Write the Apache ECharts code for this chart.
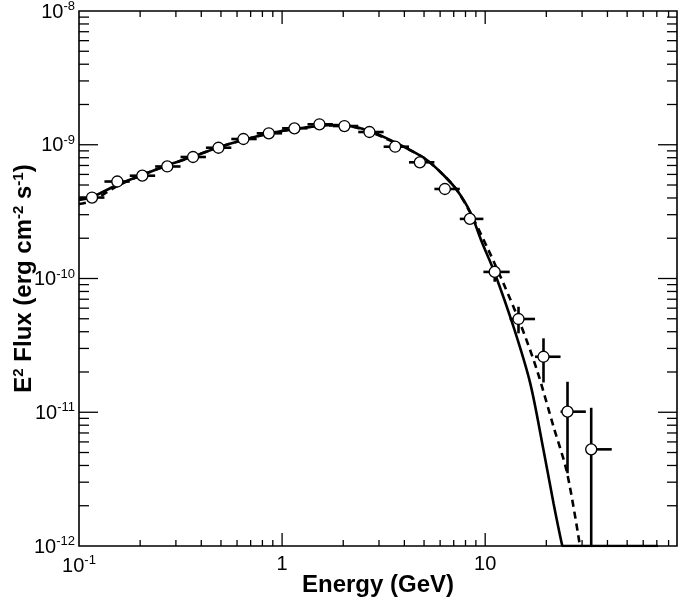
<!DOCTYPE html>
<html>
<head>
<meta charset="utf-8">
<script src="https://cdn.jsdelivr.net/npm/echarts@6/dist/echarts.min.js"></script>
<style>
html,body{margin:0;padding:0;background:#fff}
#chart{width:680px;height:602px}
</style>
</head>
<body>
<div id="chart"></div>
<script>
// data points (GeV, erg cm-2 s-1)
var energy = [0.1159,0.1544,0.205,0.272,0.3644,0.486,0.645,0.860,1.150,1.527,2.027,2.692,3.604,4.767,6.33,8.41,11.14,14.59,19.37,25.43,33.27];
var flux = [4.03e-10,5.31e-10,5.87e-10,6.88e-10,8.10e-10,9.50e-10,1.104e-9,1.218e-9,1.327e-9,1.422e-9,1.380e-9,1.245e-9,9.67e-10,7.39e-10,4.67e-10,2.79e-10,1.12e-10,4.98e-11,2.60e-11,1.01e-11,5.28e-12];
var binLo = [0.1,0.1334,0.1778,0.2371,0.3162,0.4217,0.5623,0.7499,1.0,1.334,1.778,2.371,3.162,4.217,5.623,7.499,9.8,13.2,17.6,23.5,31.3];
var binHi = [0.1334,0.1778,0.2371,0.3162,0.4217,0.5623,0.7499,1.0,1.334,1.778,2.371,3.162,4.217,5.623,7.499,9.8,13.2,17.6,23.5,31.3,42.0];
var fluxLo = [3.90e-10,5.15e-10,5.72e-10,6.72e-10,7.93e-10,9.32e-10,1.084e-9,1.196e-9,1.303e-9,1.395e-9,1.350e-9,1.212e-9,9.35e-10,7.08e-10,4.43e-10,2.56e-10,9.46e-11,3.89e-11,1.67e-11,3.50e-12,1e-12];
var fluxHi = [4.16e-10,5.47e-10,6.02e-10,7.04e-10,8.27e-10,9.68e-10,1.124e-9,1.240e-9,1.351e-9,1.449e-9,1.410e-9,1.278e-9,9.99e-10,7.70e-10,4.91e-10,3.09e-10,1.25e-10,6.15e-11,3.57e-11,1.69e-11,1.08e-11];

// model curves
var solidE = [0.1,0.1159,0.1539,0.2043,0.2713,0.3644,0.484,0.6425,0.863,1.146,1.522,1.824,2.163,2.614,3.28,4.27,5.16,6.23,7.25,8.44,9.66,11.14,13.78,16.66,19.37,21.7,23.9,24.1,71];
var solidF = [3.86e-10,4.07e-10,5.00e-10,5.94e-10,7.00e-10,8.17e-10,9.54e-10,1.085e-9,1.214e-9,1.312e-9,1.381e-9,1.405e-9,1.381e-9,1.289e-9,1.117e-9,9.13e-10,7.69e-10,5.94e-10,4.59e-10,3.14e-10,1.85e-10,1.10e-10,4.36e-11,1.65e-11,5.22e-12,2.09e-12,1.02e-12,1e-12,1e-12];
var dashE = [0.1,0.1159,0.1539,0.2043,0.2713,0.3644,0.484,0.6425,0.863,1.146,1.522,1.824,2.163,2.614,3.28,4.27,5.16,6.23,7.25,8.44,10.38,12.3,14.87,17.98,21.7,25.27,29.14];
var dashF = [3.61e-10,3.80e-10,4.91e-10,5.94e-10,7.00e-10,8.17e-10,9.54e-10,1.085e-9,1.214e-9,1.312e-9,1.381e-9,1.400e-9,1.372e-9,1.275e-9,1.105e-9,9.13e-10,7.69e-10,5.94e-10,4.59e-10,3.11e-10,1.63e-10,9.2e-11,4.62e-11,2.07e-11,7.8e-12,3.56e-12,1.05e-12];

// ticks
var xMajorTicks = [1,10];
var xMinorTicks = [0.2,0.3,0.4,0.5,0.6,0.7,0.8,0.9,2,3,4,5,6,7,8,9,20,30,40,50,60,70,80];
var yMajorTicks = [1e-11,1e-10,1e-9];
var yMinorTicks = [2e-12,3e-12,4e-12,5e-12,6e-12,7e-12,8e-12,9e-12,2e-11,3e-11,4e-11,5e-11,6e-11,7e-11,8e-11,9e-11,2e-10,3e-10,4e-10,5e-10,6e-10,7e-10,8e-10,9e-10,2e-9,3e-9,4e-9,5e-9,6e-9,7e-9,8e-9,9e-9];

var font = 'Liberation Sans, Arial, Helvetica, sans-serif';

function pairs(a, b){
	var out = [];
	for(var i=0;i<a.length;i++){ out.push([a[i], b[i]]); }
	return out;
}

// draw ticks inward on both sides of the box
function tickSeries(vals, isX, len){
	var data = vals.map(function(v){ return isX ? [v, 1e-10] : [1, v]; });
	return {
		type: 'custom',
		data: data,
		silent: true,
		z: 1,
		renderItem: function(params, api){
			var cs = params.coordSys;
			var p = api.coord([api.value(0), api.value(1)]);
			var st = {stroke: '#000', lineWidth: 1.3};
			if(isX){
				var b = cs.y + cs.height, t = cs.y;
				return {type: 'group', children: [
					{type: 'line', shape: {x1: p[0], y1: b, x2: p[0], y2: b - len}, style: st},
					{type: 'line', shape: {x1: p[0], y1: t, x2: p[0], y2: t + len}, style: st}
				]};
			}
			var l = cs.x, r = cs.x + cs.width;
			return {type: 'group', children: [
				{type: 'line', shape: {x1: l, y1: p[1], x2: l + len, y2: p[1]}, style: st},
				{type: 'line', shape: {x1: r, y1: p[1], x2: r - len, y2: p[1]}, style: st}
			]};
		}
	};
}

var errData = [];
for(var i=0;i<energy.length;i++){
	errData.push([energy[i], flux[i], binLo[i], binHi[i], fluxLo[i], fluxHi[i]]);
}

function labelFmt(v){
	var e = Math.log(v)/Math.LN10;
	var r = Math.round(e);
	if(Math.abs(e - r) > 0.01) return '';
	if(r < 0) return '{n|10}{s|' + r + '}';
	return '{n|' + Math.round(v) + '}';
}
var labelRich = {
	n: {fontSize: 20, fontFamily: font, color: '#000', verticalAlign: 'bottom'},
	s: {fontSize: 13, fontFamily: font, color: '#000', verticalAlign: 'bottom', padding: [0,0,9,0]}
};

var chart = echarts.init(document.getElementById('chart'));
var option = {
	animation: false,
	backgroundColor: '#fff',
	grid: {
		left: 79, right: 3, top: 11, bottom: 56,
		outerBoundsMode: 'none', containLabel: false,
		show: true, borderColor: '#000', borderWidth: 1.6, backgroundColor: 'transparent'
	},
	xAxis: {
		type: 'log', logBase: 10, min: 0.1, max: 88,
		axisLine: {show: false}, axisTick: {show: false}, splitLine: {show: false},
		axisLabel: {margin: 8, formatter: labelFmt, rich: labelRich, showMaxLabel: false},
		name: 'Energy (GeV)', nameLocation: 'middle', nameGap: 27, nameMoveOverlap: false,
		nameTextStyle: {fontSize: 24, fontWeight: 'bold', fontFamily: font, color: '#000'}
	},
	yAxis: {
		type: 'log', logBase: 10, min: 1e-12, max: 1e-8,
		axisLine: {show: false}, axisTick: {show: false}, splitLine: {show: false},
		axisLabel: {margin: 4, formatter: labelFmt, rich: labelRich},
		name: '{b|E}{s|2}{b| Flux (erg cm}{s|-2}{b| s}{s|-1}{b|)}',
		nameLocation: 'middle', nameGap: 43, nameRotate: 90, nameMoveOverlap: false,
		nameTextStyle: {
			fontFamily: font, color: '#000',
			rich: {
				b: {fontSize: 24, fontWeight: 'bold', fontFamily: font, color: '#000', verticalAlign: 'bottom'},
				s: {fontSize: 15, fontWeight: 'bold', fontFamily: font, color: '#000', verticalAlign: 'bottom', padding: [0,0,10,0]}
			}
		}
	},
	series: [
		tickSeries(xMajorTicks, true, 13),
		tickSeries(xMinorTicks, true, 6),
		tickSeries(yMajorTicks, false, 19),
		tickSeries(yMinorTicks, false, 10),
		{
			type: 'line', data: pairs(solidE, solidF), showSymbol: false, smooth: 0.3,
			lineStyle: {color: '#000', width: 2.6}, z: 2, silent: true
		},
		{
			type: 'line', data: pairs(dashE, dashF), showSymbol: false, smooth: 0.3,
			lineStyle: {color: '#000', width: 2.6, type: [7,5]}, z: 2, silent: true
		},
		{
			type: 'custom', data: errData, z: 3, silent: true,
			encode: {x: [0,2,3], y: [1,4,5]},
			renderItem: function(params, api){
				var e = api.value(0), f = api.value(1);
				var l = api.coord([api.value(2), f]);
				var r = api.coord([api.value(3), f]);
				var lo = api.coord([e, api.value(4)]);
				var hi = api.coord([e, api.value(5)]);
				var st = {stroke: '#000', lineWidth: 2.6};
				return {type: 'group', children: [
					{type: 'line', shape: {x1: l[0], y1: l[1], x2: r[0], y2: r[1]}, style: st},
					{type: 'line', shape: {x1: lo[0], y1: lo[1], x2: hi[0], y2: hi[1]}, style: st}
				]};
			}
		},
		{
			type: 'scatter', data: pairs(energy, flux), symbol: 'circle', symbolSize: 11, z: 5, silent: true,
			itemStyle: {color: '#fff', borderColor: '#000', borderWidth: 1.3, opacity: 1}
		}
	]
};
chart.setOption(option);
</script>
</body>
</html>
